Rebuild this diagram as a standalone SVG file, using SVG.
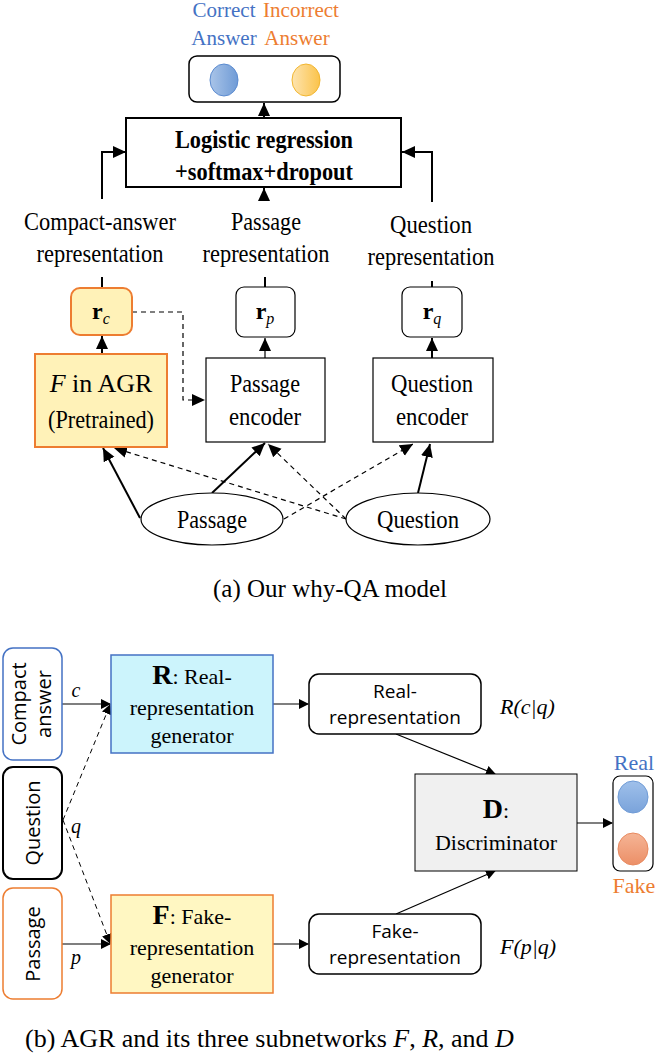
<svg xmlns="http://www.w3.org/2000/svg" width="660" height="1056" viewBox="0 0 660 1056">
<style>
.t{font-family:"Liberation Serif","Times New Roman",serif;fill:#000}
.s{font-family:"Open Sans","Noto Sans",sans-serif;fill:#000}
.ln{stroke:#000;fill:none}
.d{stroke:#000;fill:none;stroke-dasharray:5,4}
</style>
<defs>
<marker id="a" markerWidth="10" markerHeight="10" refX="9" refY="5" orient="auto" markerUnits="userSpaceOnUse"><path d="M0,0L10,5L0,10z" fill="#000"/></marker>
<marker id="b" markerWidth="14" markerHeight="14" refX="13" refY="7" orient="auto" markerUnits="userSpaceOnUse"><path d="M0,1L13,7L0,13z" fill="#000"/></marker>
<linearGradient id="gb" x1="0" x2="1"><stop offset="0" stop-color="#a9c4e8"/><stop offset="1" stop-color="#6f9bd6"/></linearGradient>
<linearGradient id="gy" x1="0" x2="1"><stop offset="0" stop-color="#fde4b0"/><stop offset="1" stop-color="#fbc34a"/></linearGradient>
<linearGradient id="gb2" x1="0" x2="0" y1="0" y2="1"><stop offset="0" stop-color="#9fc0ea"/><stop offset="1" stop-color="#7aa3da"/></linearGradient>
<linearGradient id="go2" x1="0" x2="0" y1="0" y2="1"><stop offset="0" stop-color="#f5b596"/><stop offset="1" stop-color="#ec8f67"/></linearGradient>
</defs>
<g id="connectors">
<path class="ln" stroke-width="2" d="M264,118V103" marker-end="url(#b)"/>
<path class="ln" stroke-width="2" d="M264,198V188" marker-end="url(#b)"/>
<path class="ln" stroke-width="2" d="M102,199V152H126" marker-end="url(#b)"/>
<path class="ln" stroke-width="2" d="M432,202V152H402" marker-end="url(#b)"/>
<path class="ln" stroke-width="2" d="M102,277V288M265,277V287M432,281V287"/>
<path class="ln" stroke-width="2" d="M102,354V336" marker-end="url(#b)"/>
<path class="ln" stroke-width="1.2" d="M265,358V338" marker-end="url(#b)"/>
<path class="ln" stroke-width="2" d="M432,358V338" marker-end="url(#b)"/>
<path class="d" stroke-width="1.2" d="M132,312H183V400H205" marker-end="url(#b)"/>
<path class="ln" stroke-width="2" d="M140,518L103,448" marker-end="url(#b)"/>
<path class="ln" stroke-width="2" d="M212,493L265,443" marker-end="url(#b)"/>
<path class="ln" stroke-width="2" d="M418,493L430,444" marker-end="url(#b)"/>
<path class="d" stroke-width="1.2" d="M284,519L413,444" marker-end="url(#b)"/>
<path class="d" stroke-width="1.2" d="M346,519L114,448" marker-end="url(#b)"/>
<path class="d" stroke-width="1.2" d="M346,519L268,444" marker-end="url(#b)"/>
<path class="ln" stroke-width="1.2" d="M62,704H110" marker-end="url(#a)"/>
<path class="ln" stroke-width="1.2" d="M62,944H110" marker-end="url(#a)"/>
<path class="d" stroke-width="1" stroke-dasharray="4,3" d="M63,820L110,705" marker-end="url(#a)"/>
<path class="d" stroke-width="1" stroke-dasharray="4,3" d="M63,820L110,943" marker-end="url(#a)"/>
<path class="ln" stroke-width="1.2" d="M273,704H308" marker-end="url(#a)"/>
<path class="ln" stroke-width="1.2" d="M273,944H308" marker-end="url(#a)"/>
<path class="ln" stroke-width="1.2" d="M396,734L495,774" marker-end="url(#a)"/>
<path class="ln" stroke-width="1.2" d="M396,914L495,871" marker-end="url(#a)"/>
<path class="ln" stroke-width="1.2" d="M577,823H612" marker-end="url(#a)"/>
</g>
<text class="t" x="224" y="17" font-size="21" text-anchor="middle" style="fill:#4472c4">Correct</text>
<text class="t" x="224" y="45" font-size="21" text-anchor="middle" style="fill:#4472c4">Answer</text>
<text class="t" x="301" y="17" font-size="21" text-anchor="middle" style="fill:#ed7d31">Incorrect</text>
<text class="t" x="297" y="45" font-size="21" text-anchor="middle" style="fill:#ed7d31">Answer</text>
<g id="output"><rect x="189" y="56" width="151" height="46" rx="8" fill="#fff" stroke="#000" stroke-width="1.5"/>
<ellipse cx="224" cy="80" rx="14" ry="16" fill="url(#gb)" stroke="#5b8bd0"/>
<ellipse cx="306" cy="80" rx="14" ry="16" fill="url(#gy)" stroke="#f2b630"/></g>
<g id="lr"><rect x="126" y="118" width="275" height="69" fill="#fff" stroke="#000" stroke-width="2"/>
<text class="t" x="264" y="148" font-size="25" font-weight="bold" text-anchor="middle" textLength="178" lengthAdjust="spacingAndGlyphs">Logistic regression</text>
<text class="t" x="264" y="180" font-size="25" font-weight="bold" text-anchor="middle" textLength="178" lengthAdjust="spacingAndGlyphs">+softmax+dropout</text></g>
<g id="labels">
<text class="t" x="100" y="230" font-size="26" text-anchor="middle" textLength="152" lengthAdjust="spacingAndGlyphs">Compact-answer</text>
<text class="t" x="100" y="262" font-size="26" text-anchor="middle" textLength="127" lengthAdjust="spacingAndGlyphs">representation</text>
<text class="t" x="266" y="230" font-size="26" text-anchor="middle" textLength="70" lengthAdjust="spacingAndGlyphs">Passage</text>
<text class="t" x="266" y="262" font-size="26" text-anchor="middle" textLength="127" lengthAdjust="spacingAndGlyphs">representation</text>
<text class="t" x="431" y="233" font-size="26" text-anchor="middle" textLength="82" lengthAdjust="spacingAndGlyphs">Question</text>
<text class="t" x="431" y="265" font-size="26" text-anchor="middle" textLength="127" lengthAdjust="spacingAndGlyphs">representation</text></g>
<g id="rc"><rect x="71" y="288" width="61" height="47" rx="9" fill="#fff2b8" stroke="#ed7d31" stroke-width="2"/>
<text class="t" x="101" y="319" font-size="24" text-anchor="middle"><tspan font-weight="bold">r</tspan><tspan font-style="italic" font-size="16" dy="5">c</tspan></text></g>
<g id="rp"><rect x="236" y="287" width="59" height="50" rx="8" fill="#fff" stroke="#000" stroke-width="1.2"/>
<text class="t" x="265" y="319" font-size="24" text-anchor="middle"><tspan font-weight="bold">r</tspan><tspan font-style="italic" font-size="16" dy="5">p</tspan></text></g>
<g id="rq"><rect x="402" y="287" width="60" height="50" rx="8" fill="#fff" stroke="#000" stroke-width="1.2"/>
<text class="t" x="432" y="319" font-size="24" text-anchor="middle"><tspan font-weight="bold">r</tspan><tspan font-style="italic" font-size="16" dy="5">q</tspan></text></g>
<g id="fagr"><rect x="35" y="354" width="132" height="93" fill="#fff2b8" stroke="#ed7d31" stroke-width="2"/>
<text class="t" x="101" y="392" font-size="26" text-anchor="middle"><tspan font-style="italic">F</tspan> in AGR</text>
<text class="t" x="101" y="428" font-size="26" text-anchor="middle" textLength="106" lengthAdjust="spacingAndGlyphs">(Pretrained)</text></g>
<g id="penc"><rect x="206" y="358" width="119" height="84" fill="#fff" stroke="#000" stroke-width="1.2"/>
<text class="t" x="265" y="392" font-size="26" text-anchor="middle" textLength="70" lengthAdjust="spacingAndGlyphs">Passage</text>
<text class="t" x="265" y="425" font-size="26" text-anchor="middle" textLength="72" lengthAdjust="spacingAndGlyphs">encoder</text></g>
<g id="qenc"><rect x="373" y="358" width="120" height="84" fill="#fff" stroke="#000" stroke-width="1.2"/>
<text class="t" x="432" y="392" font-size="26" text-anchor="middle" textLength="82" lengthAdjust="spacingAndGlyphs">Question</text>
<text class="t" x="432" y="425" font-size="26" text-anchor="middle" textLength="72" lengthAdjust="spacingAndGlyphs">encoder</text></g>
<g id="passage"><ellipse cx="212" cy="519" rx="71" ry="26" fill="#fff" stroke="#000" stroke-width="1.2"/>
<text class="t" x="212" y="528" font-size="26" text-anchor="middle" textLength="70" lengthAdjust="spacingAndGlyphs">Passage</text></g>
<g id="question"><ellipse cx="418" cy="519" rx="72" ry="26" fill="#fff" stroke="#000" stroke-width="1.2"/>
<text class="t" x="418" y="528" font-size="26" text-anchor="middle" textLength="82" lengthAdjust="spacingAndGlyphs">Question</text></g>
<text class="t" x="330" y="597" font-size="25" text-anchor="middle">(a)  Our why-QA model</text>
<g id="compact"><rect x="3" y="648" width="59" height="112" rx="10" fill="#fff" stroke="#4472c4" stroke-width="1.5"/>
<text class="s" transform="translate(26,704) rotate(-90)" font-size="20" text-anchor="middle">Compact</text>
<text class="s" transform="translate(51,704) rotate(-90)" font-size="20" text-anchor="middle">answer</text></g>
<g id="questionb"><rect x="3" y="767" width="59" height="112" rx="10" fill="#fff" stroke="#000" stroke-width="2"/>
<text class="s" transform="translate(40,823) rotate(-90)" font-size="20" text-anchor="middle">Question</text></g>
<g id="passageb"><rect x="3" y="888" width="59" height="111" rx="10" fill="#fff" stroke="#ed7d31" stroke-width="1.5"/>
<text class="s" transform="translate(40,944) rotate(-90)" font-size="20" text-anchor="middle">Passage</text></g>
<text class="t" x="76" y="697" font-size="20" font-style="italic" text-anchor="middle">c</text>
<text class="t" x="76" y="833" font-size="20" font-style="italic" text-anchor="middle">q</text>
<text class="t" x="76" y="964" font-size="20" font-style="italic" text-anchor="middle">p</text>
<g id="R"><rect x="111" y="655" width="162" height="98" fill="#ccf4fc" stroke="#4472c4" stroke-width="1.5"/>
<text class="t" x="192" y="684" font-size="22" text-anchor="middle"><tspan font-weight="bold" font-size="28">R</tspan>: Real-</text>
<text class="t" x="192" y="715" font-size="22" text-anchor="middle">representation</text>
<text class="t" x="192" y="743" font-size="22" text-anchor="middle">generator</text></g>
<g id="F"><rect x="111" y="895" width="162" height="98" fill="#fff7c2" stroke="#ed7d31" stroke-width="1.5"/>
<text class="t" x="192" y="924" font-size="22" text-anchor="middle"><tspan font-weight="bold" font-size="28">F</tspan>: Fake-</text>
<text class="t" x="192" y="955" font-size="22" text-anchor="middle">representation</text>
<text class="t" x="192" y="983" font-size="22" text-anchor="middle">generator</text></g>
<g id="realrep"><rect x="309" y="674" width="172" height="60" rx="10" fill="#fff" stroke="#000" stroke-width="1.5"/>
<text class="s" x="395" y="698" font-size="19" text-anchor="middle">Real-</text>
<text class="s" x="395" y="724" font-size="19" text-anchor="middle">representation</text></g>
<g id="fakerep"><rect x="309" y="914" width="172" height="60" rx="10" fill="#fff" stroke="#000" stroke-width="1.5"/>
<text class="s" x="395" y="938" font-size="19" text-anchor="middle">Fake-</text>
<text class="s" x="395" y="964" font-size="19" text-anchor="middle">representation</text></g>
<text class="t" x="500" y="714" font-size="22" font-style="italic">R(c|q)</text>
<text class="t" x="500" y="954" font-size="22" font-style="italic">F(p|q)</text>
<g id="D"><rect x="415" y="774" width="162" height="97" fill="#f0f0f0" stroke="#000" stroke-width="1"/>
<text class="t" x="496" y="818" font-size="22" text-anchor="middle"><tspan font-weight="bold" font-size="28">D</tspan>:</text>
<text class="t" x="496" y="850" font-size="22" text-anchor="middle">Discriminator</text></g>
<g id="out2"><rect x="613" y="776" width="40" height="95" rx="7" fill="#fff" stroke="#000" stroke-width="1.2"/>
<ellipse cx="633" cy="797" rx="15" ry="16" fill="url(#gb2)" stroke="#6f9bd6"/>
<ellipse cx="633" cy="849" rx="15" ry="16" fill="url(#go2)" stroke="#e88a60"/></g>
<text class="t" x="634" y="770" font-size="22" text-anchor="middle" style="fill:#4472c4">Real</text>
<text class="t" x="634" y="893" font-size="22" text-anchor="middle" style="fill:#ed7d31">Fake</text>
<text class="t" x="25" y="1047" font-size="26">(b)  AGR and its three subnetworks <tspan font-style="italic">F</tspan>, <tspan font-style="italic">R</tspan>, and <tspan font-style="italic">D</tspan></text>
</svg>
